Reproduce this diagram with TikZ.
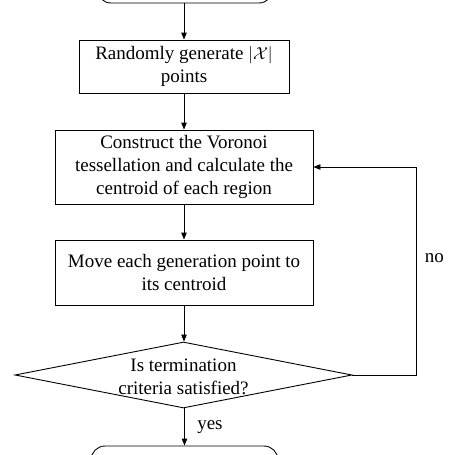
\documentclass[tikz,border=0pt]{standalone}
\usepackage{fontspec}
\setmainfont{Liberation Serif}
\usetikzlibrary{arrows.meta,shapes.geometric}
\tikzset{
  block/.style={draw, line width=0.9pt, align=center, inner sep=0pt},
  term/.style={draw, line width=0.9pt, rounded corners=14pt, minimum height=40pt},
  decision/.style={draw, line width=0.9pt, diamond, inner sep=0pt,
    minimum width=337pt, minimum height=66pt},
  flow/.style={line width=0.9pt, -{Triangle[length=7pt,width=5.5pt]}},
}
\begin{document}
\begin{tikzpicture}[x=1pt, y=-1pt, font=\fontsize{19}{23}\selectfont]
			\useasboundingbox (0,0) rectangle (455,455);
			\clip (0,0) rectangle (455,455);

			% Начало и конец (обрезаны)
			\node[term, minimum width=176pt] (start) at (185,-17) {};
			\node[term, minimum width=187pt] (stop) at (184.5,466) {};

			% Блоки
			\node[block, minimum width=210pt, minimum height=53pt] (gen) at (184,66.5)
				{Randomly generate $|\mathcal{X}|$\\points};
			\node[block, minimum width=258pt, minimum height=74pt] (vor) at (184,167)
				{Construct the Voronoi\\tessellation and calculate the\\centroid of each region};
			\node[block, minimum width=258pt, minimum height=65pt] (move) at (184,272.5)
				{Move each generation point to\\its centroid};

			% Условие
			\node[decision, label={[align=center, yshift=-2pt]center:Is termination\\criteria satisfied?}] (dec) at (183.5,375) {};

			% Стрелки
			\draw[flow] (start.south -| gen.north) -- (gen.north);
			\draw[flow] (gen) -- (vor);
			\draw[flow] (vor) -- (move);
			\draw[flow] (move.south) -- (dec.north -| move.south);
			\draw[flow] (dec.south -| stop.north) -- node[right, xshift=9pt] {yes} (stop.north);
			\draw[flow] (dec.east) -- (416,375) |- node[right, pos=0.28, xshift=5pt] {no} (vor.east);
		\end{tikzpicture}
\end{document}
